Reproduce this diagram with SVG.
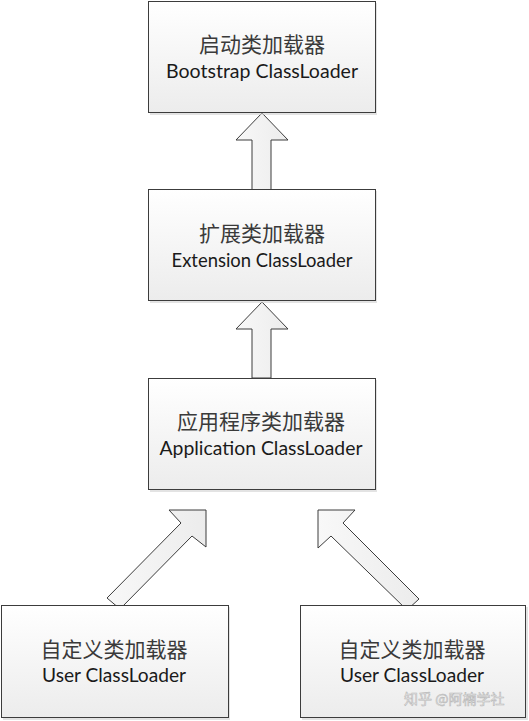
<svg xmlns="http://www.w3.org/2000/svg" width="529" height="721" viewBox="0 0 529 721">
<defs>
<linearGradient id="boxg" x1="0" y1="0" x2="0" y2="1">
<stop offset="0" stop-color="#ffffff"/>
<stop offset="1" stop-color="#ececec"/>
</linearGradient>
<linearGradient id="arrg" x1="0" y1="0" x2="1" y2="0">
<stop offset="0" stop-color="#f8f8f8"/>
<stop offset="1" stop-color="#ececec"/>
</linearGradient>
</defs>
<style>
.box{fill:url(#boxg);stroke:#3c3c3c;stroke-width:1}
.shadow{fill:#d0d0d0;opacity:0.6}
.arr{fill:url(#arrg);stroke:#3c3c3c;stroke-width:1;stroke-linejoin:miter}
.zh{font-family:"Noto Sans CJK SC",sans-serif;font-size:21px;fill:#3a3a3a;text-anchor:middle}
.en{font-family:Lato,"Open Sans",sans-serif;font-size:19.5px;fill:#1a1a1a;text-anchor:middle}
.wm{font-family:"Noto Sans CJK SC",sans-serif;font-size:14px;fill:#f4f4f4;stroke:#b8b8b8;stroke-width:0.6}
</style>
<rect width="529" height="721" fill="#ffffff"/>
<g id="connectors">
<polygon class="arr" points="262,113 288,140 271,140 271,190 252,190 252,140 236,140"/>
<polygon class="arr" points="262,302 288,329 271,329 271,378 252,378 252,329 236,329"/>
<polygon class="arr" points="206,510 206,547 192,536 120,609 107,598 181,523 169,510"/>
<polygon class="arr" points="318,510 355,510 343,523 419,599 407,610 331,536 318,548"/>
</g>
<g id="bootstrap">
<rect class="shadow" x="150" y="3" width="227" height="112"/>
<rect class="box" x="148.5" y="1.5" width="227" height="111"/>
<text class="zh" x="262" y="52">启动类加载器</text>
<text class="en" x="262" y="78" textLength="192" lengthAdjust="spacingAndGlyphs">Bootstrap ClassLoader</text>
</g>
<g id="extension">
<rect class="shadow" x="150" y="191" width="227" height="112"/>
<rect class="box" x="148.5" y="189.5" width="227" height="111"/>
<text class="zh" x="262" y="241">扩展类加载器</text>
<text class="en" x="262" y="267" textLength="181" lengthAdjust="spacingAndGlyphs">Extension ClassLoader</text>
</g>
<g id="application">
<rect class="shadow" x="150" y="380" width="227" height="112"/>
<rect class="box" x="148.5" y="378.5" width="227" height="111"/>
<text class="zh" x="261" y="429">应用程序类加载器</text>
<text class="en" x="261" y="455" textLength="203" lengthAdjust="spacingAndGlyphs">Application ClassLoader</text>
</g>
<g id="user1">
<rect class="shadow" x="3" y="607" width="227" height="113"/>
<rect class="box" x="1.5" y="605.5" width="227" height="112"/>
<text class="zh" x="114" y="657">自定义类加载器</text>
<text class="en" x="114" y="682" textLength="144" lengthAdjust="spacingAndGlyphs">User ClassLoader</text>
</g>
<g id="user2">
<rect class="shadow" x="302" y="607" width="226" height="113"/>
<rect class="box" x="300.5" y="605.5" width="225" height="112"/>
<text class="zh" x="412" y="657">自定义类加载器</text>
<text class="en" x="412" y="682" textLength="144" lengthAdjust="spacingAndGlyphs">User ClassLoader</text>
<text class="wm" x="404" y="704">知乎 @阿楠学社</text>
</g>
</svg>
